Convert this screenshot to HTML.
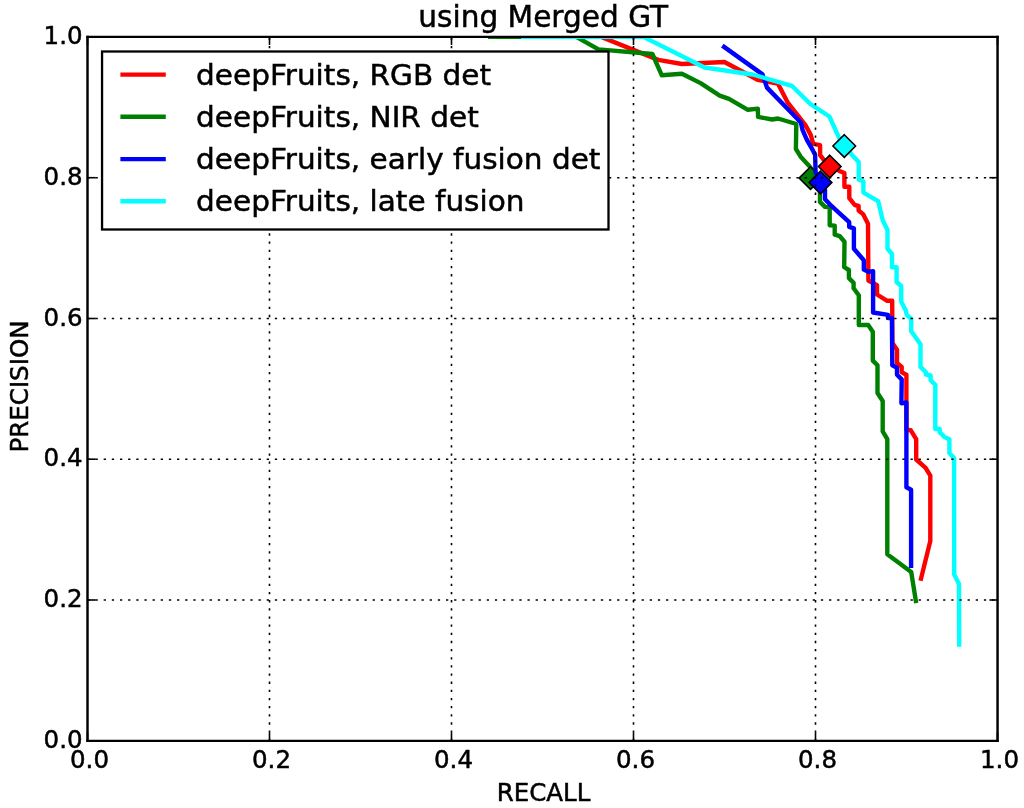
<!DOCTYPE html>
<html><head><meta charset="utf-8"><title>using Merged GT</title>
<style>html,body{margin:0;padding:0;background:#fff;}svg{display:block;}text{font-family:"DejaVu Sans","Liberation Sans",sans-serif;fill:#000;stroke:#000;stroke-width:0.5px;}</style></head><body>
<svg width="1024" height="808" viewBox="0 0 1024 808">
<rect x="0" y="0" width="1024" height="808" fill="#fff"/>
<defs><clipPath id="ax"><rect x="87.5" y="36.9" width="910.0" height="703.9"/></clipPath></defs>
<g clip-path="url(#ax)" fill="none" stroke-width="4.4" stroke-linejoin="round" stroke-linecap="butt">
<path d="M560.0,36.9 L601.3,36.9 L658.3,59.9 L681.9,64.0 L724.4,62.0 L757.6,79.8 L778.0,83.7 L787.8,102.7 L805.6,125.4 L810.7,134.9 L813.2,143.8 L820.1,145.2 L820.1,155.1 L823.6,159.6 L839.4,171.0 L844.4,173.0 L844.4,186.8 L849.3,186.8 L849.3,198.2 L854.7,205.0 L858.6,205.8 L858.6,210.5 L863.3,214.4 L868.0,223.8 L868.4,280.5 L877.0,285.2 L877.0,294.5 L887.2,300.8 L892.2,300.8 L892.4,343.0 L897.0,349.7 L897.0,363.0 L901.7,366.9 L901.7,372.3 L906.4,374.7 L906.4,429.8 L910.8,430.3 L916.2,439.2 L916.2,459.5 L925.6,467.8 L930.3,475.6 L930.3,541.0 L920.5,580.8" stroke="#ff0000"/>
<path d="M829.7,155.2 L841.1,166.6 L829.7,177.9 L818.4,166.6 Z" fill="#ff0000" stroke="#000" stroke-width="1.55" stroke-linejoin="miter"/>
<path d="M488.0,36.9 L576.3,36.9 L598.5,49.4 L652.4,54.0 L661.8,75.3 L681.9,73.8 L700.6,83.1 L719.7,95.6 L729.0,98.8 L747.9,109.8 L757.8,108.6 L758.1,116.9 L772.2,119.5 L777.9,118.5 L796.3,124.0 L795.9,149.0 L801.3,157.6 L809.7,166.5 L820.0,180.0 L820.0,201.9 L825.0,206.9 L829.7,207.3 L829.7,225.3 L834.7,225.6 L834.7,234.7 L839.8,236.2 L844.5,241.7 L844.2,267.2 L848.9,270.0 L848.9,278.1 L853.6,282.8 L853.6,288.3 L858.8,295.3 L858.8,325.0 L868.2,325.0 L872.8,331.7 L872.8,360.6 L877.5,365.3 L877.5,393.0 L882.7,401.0 L882.7,431.4 L887.3,439.2 L887.3,554.2 L911.2,571.9 L916.2,603.2" stroke="#008000"/>
<path d="M810.5,166.8 L821.9,178.1 L810.5,189.4 L799.1,178.1 Z" fill="#008000" stroke="#000" stroke-width="1.55" stroke-linejoin="miter"/>
<path d="M722.3,45.6 L762.5,74.4 L767.0,87.6 L800.9,122.5 L802.5,129.9 L806.9,139.8 L812.5,149.7 L815.1,154.7 L815.6,172.5 L825.0,189.4 L825.0,199.2 L830.3,204.8 L849.2,222.2 L849.2,226.9 L853.9,228.4 L853.9,248.8 L863.8,260.2 L863.8,269.5 L868.4,271.9 L873.1,271.1 L873.1,312.5 L888.0,314.8 L888.0,318.0 L891.9,318.0 L892.3,365.3 L897.0,367.7 L897.0,374.7 L901.7,379.4 L901.4,403.3 L906.4,402.5 L906.4,487.3 L911.1,489.7 L911.1,568.0" stroke="#0000ff"/>
<path d="M820.5,171.2 L831.9,182.6 L820.5,193.9 L809.1,182.6 Z" fill="#0000ff" stroke="#000" stroke-width="1.55" stroke-linejoin="miter"/>
<path d="M521.0,36.9 L643.4,36.9 L704.6,67.5 L752.5,74.5 L791.8,85.8 L810.6,104.2 L829.4,116.5 L839.3,138.3 L851.3,154.2 L858.7,162.1 L858.7,179.4 L863.4,181.4 L863.4,192.6 L878.1,201.1 L882.8,220.6 L887.5,230.0 L887.5,248.8 L892.0,254.0 L892.0,267.2 L896.6,267.2 L896.6,282.0 L901.2,286.0 L901.2,301.6 L906.0,311.0 L906.7,314.8 L911.3,318.8 L911.1,331.0 L920.5,344.2 L920.5,366.9 L925.9,372.3 L925.9,374.5 L930.6,375.5 L930.6,380.2 L935.3,384.8 L935.3,429.0 L939.7,429.0 L939.7,432.2 L944.4,436.9 L949.4,439.2 L949.4,453.3 L954.1,458.0 L954.2,574.5 L959.0,583.9 L959.2,646.8" stroke="#00ffff"/>
<path d="M844.3,134.7 L855.6,146.0 L844.3,157.3 L832.9,146.0 Z" fill="#00ffff" stroke="#000" stroke-width="1.55" stroke-linejoin="miter"/>
</g>
<g stroke="#000" stroke-width="1.6" stroke-dasharray="2.3 5.85" stroke-dashoffset="0.13" fill="none">
<line x1="269.5" y1="740.8" x2="269.5" y2="36.9"/>
<line x1="451.5" y1="740.8" x2="451.5" y2="36.9"/>
<line x1="633.5" y1="740.8" x2="633.5" y2="36.9"/>
<line x1="815.5" y1="740.8" x2="815.5" y2="36.9"/>
<line x1="87.5" y1="600.0" x2="997.5" y2="600.0"/>
<line x1="87.5" y1="459.2" x2="997.5" y2="459.2"/>
<line x1="87.5" y1="318.5" x2="997.5" y2="318.5"/>
<line x1="87.5" y1="177.7" x2="997.5" y2="177.7"/>
</g>
<g stroke="#000" stroke-width="1.6" fill="none">
<line x1="87.5" y1="740.8" x2="87.5" y2="732.6"/>
<line x1="87.5" y1="36.9" x2="87.5" y2="45.0"/>
<line x1="87.5" y1="740.8" x2="95.7" y2="740.8"/>
<line x1="997.5" y1="740.8" x2="989.4" y2="740.8"/>
<line x1="269.5" y1="740.8" x2="269.5" y2="732.6"/>
<line x1="269.5" y1="36.9" x2="269.5" y2="45.0"/>
<line x1="87.5" y1="600.0" x2="95.7" y2="600.0"/>
<line x1="997.5" y1="600.0" x2="989.4" y2="600.0"/>
<line x1="451.5" y1="740.8" x2="451.5" y2="732.6"/>
<line x1="451.5" y1="36.9" x2="451.5" y2="45.0"/>
<line x1="87.5" y1="459.2" x2="95.7" y2="459.2"/>
<line x1="997.5" y1="459.2" x2="989.4" y2="459.2"/>
<line x1="633.5" y1="740.8" x2="633.5" y2="732.6"/>
<line x1="633.5" y1="36.9" x2="633.5" y2="45.0"/>
<line x1="87.5" y1="318.5" x2="95.7" y2="318.5"/>
<line x1="997.5" y1="318.5" x2="989.4" y2="318.5"/>
<line x1="815.5" y1="740.8" x2="815.5" y2="732.6"/>
<line x1="815.5" y1="36.9" x2="815.5" y2="45.0"/>
<line x1="87.5" y1="177.7" x2="95.7" y2="177.7"/>
<line x1="997.5" y1="177.7" x2="989.4" y2="177.7"/>
<line x1="997.5" y1="740.8" x2="997.5" y2="732.6"/>
<line x1="997.5" y1="36.9" x2="997.5" y2="45.0"/>
<line x1="87.5" y1="36.9" x2="95.7" y2="36.9"/>
<line x1="997.5" y1="36.9" x2="989.4" y2="36.9"/>
</g>
<g stroke="#000" fill="none" stroke-linecap="square"><path d="M87.50,36.90 H997.55 M87.50,740.80 H997.55" stroke-width="2.15"/><path d="M87.50,36.90 V740.80 M997.55,36.90 V740.80" stroke-width="2.45"/></g>
<g font-size="24.5" text-anchor="middle">
<text transform="translate(89.5,767.7) scale(1,1.02)">0.0</text>
<text transform="translate(271.5,767.7) scale(1,1.02)">0.2</text>
<text transform="translate(453.5,767.7) scale(1,1.02)">0.4</text>
<text transform="translate(635.5,767.7) scale(1,1.02)">0.6</text>
<text transform="translate(817.5,767.7) scale(1,1.02)">0.8</text>
<text transform="translate(999.5,767.7) scale(1,1.02)">1.0</text>
</g>
<g font-size="24.5" text-anchor="end">
<text transform="translate(82.5,747.9) scale(1,1.025)">0.0</text>
<text transform="translate(82.5,607.1) scale(1,1.025)">0.2</text>
<text transform="translate(82.5,466.3) scale(1,1.025)">0.4</text>
<text transform="translate(82.5,325.6) scale(1,1.025)">0.6</text>
<text transform="translate(82.5,184.8) scale(1,1.025)">0.8</text>
<text transform="translate(82.5,44.0) scale(1,1.025)">1.0</text>
</g>
<rect x="102.05" y="51.5" width="506.45" height="178" fill="#fff" stroke="#000" stroke-width="2.3"/>
<line x1="120.4" y1="74.6" x2="165.8" y2="74.6" stroke="#ff0000" stroke-width="4.4"/>
<text transform="translate(196.1,84.55) scale(1,0.955)" font-size="29.55">deepFruits, RGB det</text>
<line x1="120.4" y1="116.8" x2="165.8" y2="116.8" stroke="#008000" stroke-width="4.4"/>
<text transform="translate(196.1,126.80) scale(1,0.955)" font-size="29.55">deepFruits, NIR det</text>
<line x1="120.4" y1="159.1" x2="165.8" y2="159.1" stroke="#0000ff" stroke-width="4.4"/>
<text transform="translate(196.1,169.05) scale(1,0.955)" font-size="29.55">deepFruits, early fusion det</text>
<line x1="120.4" y1="201.3" x2="165.8" y2="201.3" stroke="#00ffff" stroke-width="4.4"/>
<text transform="translate(196.1,211.30) scale(1,0.955)" font-size="29.55">deepFruits, late fusion</text>
<text transform="translate(543.2,27.2) scale(1,0.992)" font-size="29.6" text-anchor="middle">using Merged GT</text>
<text x="543.6" y="800.9" font-size="24.5" text-anchor="middle">RECALL</text>
<text transform="translate(28.2,386.5) rotate(-90)" font-size="24.5" text-anchor="middle">PRECISION</text>
</svg></body></html>
